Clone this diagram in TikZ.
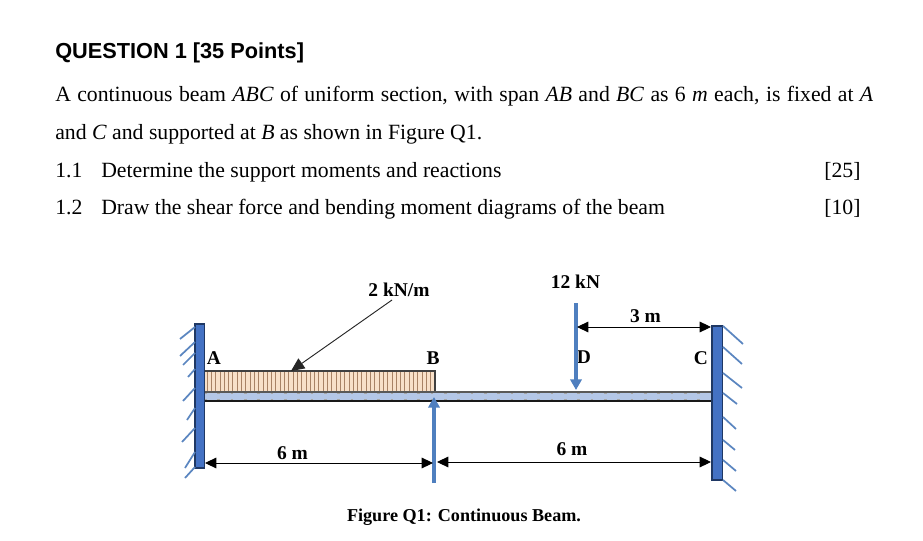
\documentclass[tikz,border=0pt]{standalone}
\usepackage{fontspec}
\setmainfont{Liberation Serif}
\newfontfamily\headfont{Liberation Sans}
\usetikzlibrary{arrows.meta}
\definecolor{wallblue}{HTML}{4472C4}
\definecolor{walledge}{HTML}{1F3864}
\definecolor{forceblue}{HTML}{4F7FBF}
\definecolor{beamfill}{HTML}{B4C7E7}
\definecolor{udlfill}{HTML}{F8E0C8}
\definecolor{udlline}{HTML}{A88264}
\definecolor{hatchblue}{HTML}{5B86C0}
\tikzset{
  body/.style={anchor=base west,inner sep=0pt,font=\fontsize{16.3}{19}\selectfont},
  heading/.style={anchor=base west,inner sep=0pt,font=\headfont\bfseries\fontsize{16.3}{19}\selectfont},
  lbl/.style={inner sep=0pt,font=\bfseries\fontsize{14.6}{16}\selectfont},
  caption/.style={inner sep=0pt,font=\bfseries\fontsize{13.6}{15}\selectfont},
  wall/.style={draw=walledge,fill=wallblue,line width=1pt,inner sep=0pt,minimum width=0pt},
  hatch/.style={draw=hatchblue,line width=1.3pt},
  dim/.style={draw=black,line width=0.7pt,{Triangle[length=8.5pt,width=8pt]}-{Triangle[length=8.5pt,width=8pt]}},
  force/.style={draw=forceblue,line width=2.4pt,-{Triangle[length=8pt,width=8.5pt]}},
  leader/.style={draw=black!85,line width=0.7pt,-{Triangle[length=10pt,width=9pt]}}
}
\begin{document}
\begin{tikzpicture}[x=0.75pt,y=-0.75pt]
\useasboundingbox (0,0) rectangle (923,541);
% text
\node[heading] (title) at (55,59) {QUESTION 1 [35 Points]};
\node[body] (l1) at (55,102) {\makebox[613.5pt][s]{A continuous beam \textit{ABC} of uniform section, with span \textit{AB} and \textit{BC} as 6 \textit{m} each, is fixed at \textit{A}}};
\node[body] (l2) at (55,140) {and \textit{C} and supported at \textit{B} as shown in Figure Q1.};
\node[body] (n1) at (55,177.5) {1.1};
\node[body] (t1) at (101,177.5) {Determine the support moments and reactions};
\node[body] (m1) at (824,177.5) {[25]};
\node[body] (n2) at (55,214.5) {1.2};
\node[body] (t2) at (101,214.5) {Draw the shear force and bending moment diagrams of the beam};
\node[body] (m2) at (824,214.5) {[10]};
% UDL
\coordinate (udlTL) at (205,371);
\coordinate (udlBR) at (435,392);
\fill[udlfill] (udlTL) rectangle (udlBR);
\foreach \i in {0,...,53}{
  \draw[udlline,line width=0.5pt] (207+4.3*\i,371) -- (207+4.3*\i,392);
}
\draw[black!75,line width=0.8pt] (205,371) -- (435,371) -- (435,392);
% beam
\coordinate (beamTL) at (204,392);
\coordinate (beamBR) at (712,401);
\fill[beamfill] (beamTL) rectangle (beamBR);
\draw[black!65,line width=1pt] (204,392) -- (712,392);
\draw[black!90,line width=0.8pt] (204,401) -- (712,401);
\draw[black!35,dash pattern=on 2pt off 8pt,line width=0.5pt] (204,393.5) -- (712,393.5);
\draw[black!35,dash pattern=on 2pt off 8pt,line width=0.5pt] (204,399.8) -- (712,399.8);
% walls
\node[wall,minimum width=7.2pt,minimum height=108pt] (wallA) at (199.7,396) {};
\node[wall,minimum width=8pt,minimum height=115.5pt] (wallC) at (717.3,403) {};
% hatching
\foreach \a/\b/\c/\d in {195/327/180/339, 195/342/180/356, 195/353/183/365, 195/369/188/377, 195/388/183/401, 195/408/187/420, 195/428/182/442, 195/452/185/468, 195/467/185/478}{
  \draw[hatch] (\a,\b) -- (\c,\d);
}
\foreach \a/\b/\c/\d in {723/326/743/344, 723/347/742/364, 723/373/742/388, 723/393/737/404, 723/417/736/429, 723/440/735/450, 723/460/736/471, 723/480/736/491}{
  \draw[hatch] (\a,\b) -- (\c,\d);
}
% labels
\node[lbl] (q) at (399,290) {2 kN/m};
\node[lbl] (P) at (575.5,281.5) {12 kN};
\node[lbl] (d3) at (645.5,316) {3 m};
\node[lbl] (A) at (214,358) {A};
\node[lbl] (B) at (433,358) {B};
\node[lbl] (D) at (584,357) {D};
\node[lbl] (C) at (701,358) {C};
\node[lbl] (d6a) at (292.5,453) {6 m};
\node[lbl] (d6b) at (572,449) {6 m};
\node[caption] (cap) at (464,517) {Figure Q1: Continuous Beam.};
% leader and forces
\coordinate (leadS) at (392,300);
\coordinate (leadE) at (291,371);
\draw[leader] (leadS) -- (leadE);
\coordinate (Bs) at (434,483);
\coordinate (Be) at (434,397);
\draw[force] (Bs) -- (Be);
\coordinate (Ds) at (576,303);
\coordinate (De) at (576,390);
\draw[force] (Ds) -- (De);
% dimensions
\coordinate (a1) at (205,463);
\coordinate (a2) at (433,463);
\coordinate (b1) at (437,462);
\coordinate (b2) at (711,462);
\coordinate (c1) at (577,327);
\coordinate (c2) at (711,327);
\draw[dim] (a1) -- (a2);
\draw[dim] (b1) -- (b2);
\draw[dim] (c1) -- (c2);
\end{tikzpicture}
\end{document}
